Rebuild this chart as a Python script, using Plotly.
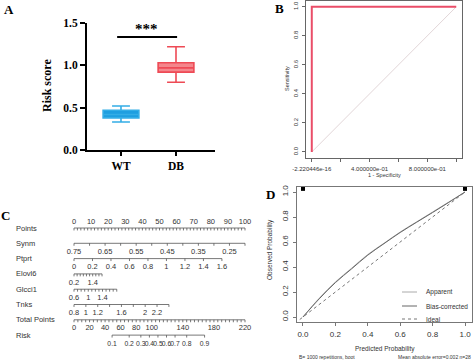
import plotly.graph_objects as go

W, H = 474, 361
def px(x): return x / W
def py(y): return 1 - y / H

SERIF = "Liberation Serif, Times New Roman, serif"
SANS = "Liberation Sans, Arial, sans-serif"

# ---------------- Panel A data ----------------
groups = ["WT", "DB"]
a_q1 = [0.38, 0.92]
a_median = [0.42, 0.97]
a_q3 = [0.47, 1.03]
a_low = [0.33, 0.80]
a_high = [0.52, 1.22]
a_fill = ["#1E9FE0", "#F4868C"]
a_line = ["#33ADE6", "#EE4A55"]
a_yticks = [0.0, 0.5, 1.0, 1.5]
a_sig_y = 1.335

# ---------------- Panel B data ----------------
roc_fpr = [0.0, 0.0, 1.0]
roc_tpr = [0.0, 1.0, 1.0]
ref_line = [0.0, 1.0]
b_ticks = [0.0, 0.2, 0.4, 0.6, 0.8, 1.0]
b_xticktext = ["-2.220446e-16", "", "4.000000e-01", "", "8.000000e-01", ""]
b_yticktext = ["0.0", "0.2", "0.4", "0.6", "0.8", "1.0"]

# ---------------- Panel C data (nomogram) ----------------
nomo_rows = ["Points", "Synm", "Ptprt", "Elovl6", "Glcci1", "Tnks", "Total Points", "Risk"]
points_ticks = list(range(0, 101, 2))
points_labels = list(range(0, 101, 10))
synm_ticks = [0.75, 0.70, 0.65, 0.60, 0.55, 0.50, 0.45, 0.40, 0.35, 0.30, 0.25, 0.20]
synm_labels = [0.75, 0.65, 0.55, 0.45, 0.35, 0.25]
synm_end_points = 100
ptprt_ticks = [0.0, 0.2, 0.4, 0.6, 0.8, 1.0, 1.2, 1.4, 1.6]
ptprt_labels = [0.0, 0.2, 0.4, 0.6, 0.8, 1.0, 1.2, 1.4, 1.6]
ptprt_end_points = 86.5
elovl6_ticks = [0.2, 0.4, 0.6, 0.8, 1.0, 1.2, 1.4, 1.6, 1.8, 2.0]
elovl6_labels = [0.2, 1.4]
elovl6_end_points = 16.4
glcci1_ticks = [0.6, 0.7, 0.8, 0.9, 1.0, 1.1, 1.2, 1.3, 1.4, 1.5, 1.6, 1.7, 1.8]
glcci1_labels = [0.6, 1.0, 1.4]
glcci1_end_points = 25.0
tnks_ticks = [0.8, 1.0, 1.2, 1.4, 1.6, 1.8, 2.0, 2.2, 2.4]
tnks_labels = [0.8, 1.0, 1.2, 1.6, 2.0, 2.2]
tnks_end_points = 55.5
total_ticks = list(range(0, 221, 5))
total_labels = [0, 20, 40, 60, 80, 100, 140, 180, 220]
total_max = 220
risk_values = [0.1, 0.2, 0.3, 0.4, 0.5, 0.6, 0.7, 0.8, 0.9]
risk_total_points = [49, 71, 86, 97, 108, 119, 130, 145, 168]

# ---------------- Panel D data ----------------
cal_pred = [0.0, 0.1, 0.2, 0.3, 0.4, 0.5, 0.6, 0.7, 0.8, 0.9, 1.0]
cal_apparent = [0.0, 0.15, 0.28, 0.39, 0.50, 0.59, 0.68, 0.76, 0.84, 0.92, 1.0]
cal_bias = [0.0, 0.145, 0.275, 0.385, 0.495, 0.587, 0.676, 0.757, 0.836, 0.917, 1.0]
ideal_line = [-0.02, 1.0]
rug_pred = [0.0, 1.0]
d_ticks = [0.0, 0.2, 0.4, 0.6, 0.8, 1.0]
d_ticktext = ["0.0", "0.2", "0.4", "0.6", "0.8", "1.0"]
legend_items = ["Apparent", "Bias-corrected", "Ideal"]

fig = go.Figure()

# ---------- Panel A traces ----------
for i, g in enumerate(groups):
    fig.add_trace(go.Box(
        x=[i], q1=[a_q1[i]], median=[a_median[i]], q3=[a_q3[i]],
        lowerfence=[a_low[i]], upperfence=[a_high[i]],
        width=0.65, whiskerwidth=0.5, fillcolor=a_fill[i],
        line=dict(color=a_line[i], width=1.6), boxpoints=False,
        xaxis="x", yaxis="y", hoverinfo="skip", name=g))

# ---------- Panel B traces ----------
fig.add_trace(go.Scatter(x=ref_line, y=ref_line, mode="lines",
                         line=dict(color="#E2D6D8", width=1), xaxis="x2", yaxis="y2"))
fig.add_trace(go.Scatter(x=roc_fpr, y=roc_tpr, mode="lines",
                         line=dict(color="#EA4D68", width=2), xaxis="x2", yaxis="y2"))

# ---------- Panel C traces ----------
NCOL = "#555555"
TCOL = "#333333"
TL = 0.16  # tick length in row units

def lin(ticks, end_points):
    v0, v1 = ticks[0], ticks[-1]
    return lambda v: (v - v0) / (v1 - v0) * end_points

def fmt(v):
    return f"{v:g}"

def add_row(r, tick_pts, label_pts, label_txt, above=False, size=7.5):
    fig.add_trace(go.Scatter(x=[min(tick_pts), max(tick_pts)], y=[r, r], mode="lines",
                             line=dict(color=NCOL, width=0.8), xaxis="x3", yaxis="y3",
                             hoverinfo="skip"))
    X, Y = [], []
    for t in tick_pts:
        X += [t, t, None]
        Y += [r, r + TL, None]
    fig.add_trace(go.Scatter(x=X, y=Y, mode="lines", line=dict(color=NCOL, width=0.8),
                             xaxis="x3", yaxis="y3", hoverinfo="skip"))
    off = -0.40 if above else 0.57
    fig.add_trace(go.Scatter(x=label_pts, y=[r + off] * len(label_pts), mode="text",
                             text=label_txt, textposition="middle center",
                             textfont=dict(family=SANS, size=size, color=TCOL),
                             xaxis="x3", yaxis="y3", hoverinfo="skip"))

add_row(0, points_ticks, points_labels, [fmt(v) for v in points_labels], above=True)
for r, ticks, labels, endp in [
    (1, synm_ticks, synm_labels, synm_end_points),
    (2, ptprt_ticks, ptprt_labels, ptprt_end_points),
    (3, elovl6_ticks, elovl6_labels, elovl6_end_points),
    (4, glcci1_ticks, glcci1_labels, glcci1_end_points),
    (5, tnks_ticks, tnks_labels, tnks_end_points),
]:
    f = lin(ticks, endp)
    add_row(r, [f(v) for v in ticks], [f(v) for v in labels], [fmt(v) for v in labels])
tp = lambda t: t / total_max * 100
add_row(6, [tp(t) for t in total_ticks], [tp(t) for t in total_labels],
        [fmt(v) for v in total_labels])
add_row(7, [tp(t) for t in risk_total_points], [tp(t) for t in risk_total_points],
        [fmt(v) for v in risk_values], size=6.8)

# ---------- Panel D traces ----------
fig.add_trace(go.Scatter(x=ideal_line, y=ideal_line, mode="lines",
                         line=dict(color="#777777", width=1, dash="dot"), xaxis="x4", yaxis="y4"))
fig.add_trace(go.Scatter(x=cal_pred, y=cal_apparent, mode="lines", line_shape="spline",
                         line=dict(color="#AAAAAA", width=1), xaxis="x4", yaxis="y4"))
fig.add_trace(go.Scatter(x=cal_pred, y=cal_bias, mode="lines", line_shape="spline",
                         line=dict(color="#666666", width=1), xaxis="x4", yaxis="y4"))
fig.add_trace(go.Scatter(x=rug_pred, y=[1.025] * len(rug_pred), mode="markers",
                         marker=dict(symbol="square", size=4, color="black"),
                         xaxis="x4", yaxis="y4", cliponaxis=False))

# ---------- Layout ----------
axA = dict(showgrid=False, zeroline=False, showline=True, linecolor="black", linewidth=2,
           ticks="outside", tickwidth=2, tickcolor="black", automargin=False,
           tickfont=dict(family=SERIF, size=11.5, color="black", weight="bold"))
rfont = dict(family=SANS, size=6, color=TCOL)
axB = dict(showgrid=False, zeroline=False, showline=True, mirror=True, linecolor="#666666",
           linewidth=1, ticks="outside", ticklen=3, tickwidth=0.8, tickcolor="#666666",
           range=[-0.04, 1.04], tickvals=b_ticks, tickfont=rfont, automargin=False)
axD = dict(showgrid=False, zeroline=False, showline=True, mirror=True, linecolor="#777777",
           linewidth=1, ticks="outside", ticklen=3, tickwidth=0.8, tickcolor="#777777",
           range=[-0.04, 1.04], tickvals=d_ticks, ticktext=d_ticktext, automargin=False,
           tickfont=dict(family=SANS, size=8, color=TCOL))

fig.update_layout(
    width=W, height=H, margin=dict(l=0, r=0, t=0, b=0, pad=0, autoexpand=False),
    paper_bgcolor="white", plot_bgcolor="white", showlegend=False,
    xaxis=dict(axA, domain=[px(87), px(215)], range=[-0.618, 1.709],
               tickvals=[0, 1], ticktext=groups, ticklen=4),
    yaxis=dict(axA, domain=[py(150), py(23)], range=[0, 1.5], tickvals=a_yticks,
               ticktext=[f"{v:.1f}" for v in a_yticks], ticklen=5),
    xaxis2=dict(axB, domain=[px(306), px(462)], ticktext=b_xticktext, anchor="y2",
                ticklabelstandoff=2),
    yaxis2=dict(axB, domain=[py(157.8), py(1)], ticktext=b_yticktext, anchor="x2",
                tickangle=-90, ticklabelstandoff=2),
    xaxis3=dict(visible=False, domain=[0, px(260)], range=[-74 / 1.71, 186 / 1.71],
                anchor="y3", automargin=False),
    yaxis3=dict(visible=False, domain=[py(355), py(200)], range=[8.3, -1.83], anchor="x3",
                automargin=False),
    xaxis4=dict(axD, domain=[px(296.5), px(471.5)], anchor="y4", ticklabelstandoff=1),
    yaxis4=dict(axD, domain=[py(322), py(187)], anchor="x4", tickangle=-90, ticklabelstandoff=1),
)

# significance bar in panel A
fig.add_shape(type="line", xref="x", yref="y", x0=-0.07, x1=1.02, y0=a_sig_y, y1=a_sig_y,
              line=dict(color="black", width=2))

ann = []
def A(text, x, y, size, family=SANS, color=TCOL, angle=0, bold=False, xanchor="center",
      xref="paper", yref="paper"):
    ann.append(dict(text=text, x=x, y=y, xref=xref, yref=yref, showarrow=False,
                    textangle=angle, xanchor=xanchor, yanchor="middle",
                    font=dict(family=family, size=size, color=color,
                              weight="bold" if bold else "normal")))

A("***", 0.47, 1.43, 15, family=SERIF, color="black", bold=True, xref="x", yref="y")
A("Risk score", px(47), py(86), 12, family=SERIF, color="black", angle=-90, bold=True)
# panel letters
A("A", px(9), py(10), 13, family=SERIF, color="black", bold=True)
A("B", px(279), py(8), 13, family=SERIF, color="black", bold=True)
A("C", px(5), py(215), 13, family=SERIF, color="black", bold=True)
A("D", px(270), py(194), 13, family=SERIF, color="black", bold=True)
# panel B titles
A("Sensitivity", px(287), py(79), 5.5, angle=-90)
A("1 - Specificity", px(384), py(175), 5.5)
# panel D titles
A("Observed Probability", px(270), py(250), 6.5, angle=-90)
A("Predicted Probability", px(385), py(349), 6.5)
A("B= 1000 repetitions, boot", px(297), py(357), 5, xanchor="left")
A("Mean absolute error=0.002 n=28", px(473), py(357), 5, xanchor="right")
# nomogram row labels
for r, name in enumerate(nomo_rows):
    A(name, px(14), r, 7.5, xanchor="left", yref="y3")
# panel D legend
leg_y = [292, 306, 319]
leg_style = [("#AAAAAA", "solid"), ("#666666", "solid"), ("#777777", "dot")]
for name, yy, (c, d) in zip(legend_items, leg_y, leg_style):
    fig.add_shape(type="line", xref="paper", yref="paper", x0=px(402), x1=px(417),
                  y0=py(yy), y1=py(yy), line=dict(color=c, width=1, dash=d))
    A(name, px(424), py(yy), 6.5, xanchor="left")

fig.update_layout(annotations=ann)
fig.write_html("out.html", config={"displayModeBar": False},
               post_script="document.body.style.margin='0px';document.body.style.overflow='hidden';")
